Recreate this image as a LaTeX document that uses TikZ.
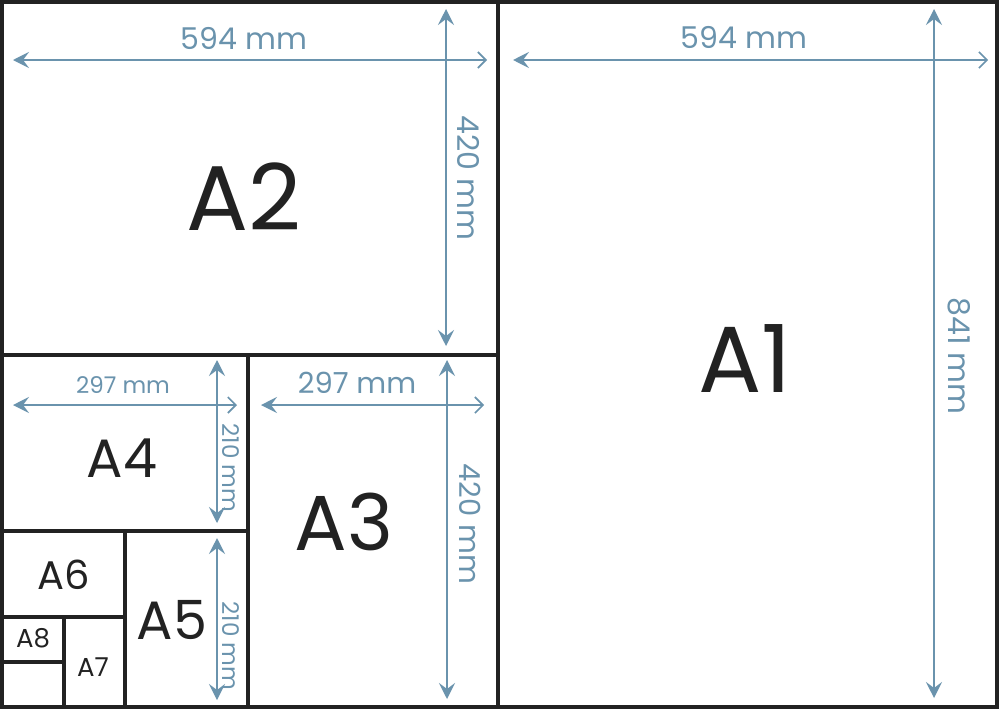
\documentclass[tikz,border=0pt]{standalone}
\usepackage{fontspec}
\setmainfont{Poppins}
\usetikzlibrary{arrows.meta}
\definecolor{dimblue}{RGB}{106,147,173}
\definecolor{ink}{RGB}{34,34,34}
\begin{document}
\begin{tikzpicture}[x=1pt,y=-1pt,
		frame/.style={line width=3.5pt,draw=ink},
		hdim/.style={draw=dimblue,line width=1.6pt,{Stealth[length=16pt,width=16pt,inset=6pt]}-{Straight Barb[length=8pt,width=16pt]}},
		vdim/.style={draw=dimblue,line width=1.6pt,{Stealth[length=16pt,width=16pt,inset=6pt]}-{Stealth[length=16pt,width=16pt,inset=6pt]}},
		dimtext/.style={text=dimblue,inner sep=0pt,font=\fontsize{#1}{#1}\selectfont},
		sheet/.style={text=ink,inner sep=0pt,font=\fontsize{#1}{#1}\selectfont}]
		\useasboundingbox (0,0) rectangle (1000,712);
		\fill[white] (0,0) rectangle (1000,712);
		% sheets
		\draw[frame] (2,2) rectangle (997,707);
		\draw[frame] (498,2) -- (498,707);
		\draw[frame] (2,355) -- (498,355);
		\draw[frame] (248,355) -- (248,707);
		\draw[frame] (2,531) -- (248,531);
		\draw[frame] (125,531) -- (125,707);
		\draw[frame] (2,617) -- (125,617);
		\draw[frame] (64,617) -- (64,707);
		\draw[frame] (2,662) -- (64,662);
		% sheet names
		\node[sheet=94] (a1) at (745,359) {A1};
		\node[sheet=92] (a2) at (244,197) {A2};
		\node[sheet=78] (a3) at (344,522) {A3};
		\node[sheet=54] (a4) at (122,458) {A4};
		\node[sheet=54] (a5) at (172,620) {A5};
		\node[sheet=40] (a6) at (64,575) {A6};
		\node[sheet=26] (a7) at (93,667) {A7};
		\node[sheet=26] (a8) at (33,638) {A8};
		% dimension ends
		\coordinate (a2l) at (13,60); \coordinate (a2r) at (487,60);
		\coordinate (a2t) at (446,9); \coordinate (a2b) at (446,346);
		\coordinate (a1l) at (513,60); \coordinate (a1r) at (988,60);
		\coordinate (a1t) at (934,9); \coordinate (a1b) at (934,698);
		\coordinate (a4l) at (13,405); \coordinate (a4r) at (237,405);
		\coordinate (a4t) at (217,360); \coordinate (a4b) at (217,523);
		\coordinate (a3l) at (261,405); \coordinate (a3r) at (484,405);
		\coordinate (a3t) at (447,360); \coordinate (a3b) at (447,699);
		\coordinate (a5t) at (217,538); \coordinate (a5b) at (217,700);
		\draw[hdim] (a2l) -- (a2r);
		\draw[vdim] (a2t) -- (a2b);
		\draw[hdim] (a1l) -- (a1r);
		\draw[vdim] (a1t) -- (a1b);
		\draw[hdim] (a4l) -- (a4r);
		\draw[vdim] (a4t) -- (a4b);
		\draw[hdim] (a3l) -- (a3r);
		\draw[vdim] (a3t) -- (a3b);
		\draw[vdim] (a5t) -- (a5b);
		% dimension labels
		\node[dimtext=30] (w2) at (244,38) {594 mm};
		\node[dimtext=30,rotate=-90] (h2) at (469,178) {420 mm};
		\node[dimtext=30] (w1) at (744,37) {594 mm};
		\node[dimtext=30,rotate=-90] (h1) at (959,356) {841 mm};
		\node[dimtext=23] (w4) at (123,385) {297 mm};
		\node[dimtext=23,rotate=-90] (h4) at (231,468) {210 mm};
		\node[dimtext=29] (w3) at (357,383) {297 mm};
		\node[dimtext=29,rotate=-90] (h3) at (470,524) {420 mm};
		\node[dimtext=23,rotate=-90] (h5) at (231,646) {210 mm};
\end{tikzpicture}
\end{document}
